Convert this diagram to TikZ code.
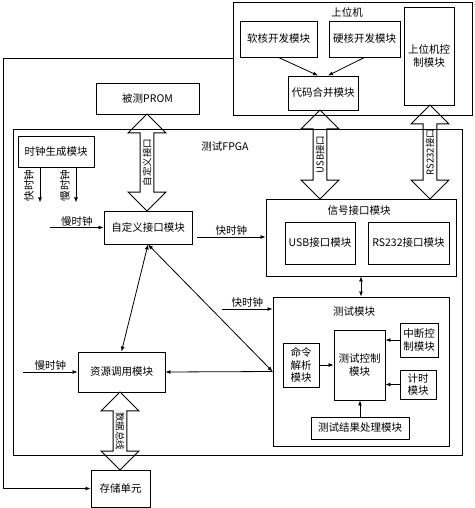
\documentclass[tikz,border=0pt]{standalone}
\usepackage{fontspec}
\setmainfont{Noto Sans CJK SC}
\usepackage{tikz}
\usetikzlibrary{calc, positioning, arrows.meta, shapes.arrows}

\tikzset{
  box/.style 2 args={draw, line width=0.9pt, align=center, inner sep=1pt,
    minimum width=#1, minimum height=#2, font=\fontsize{10.5}{12.5}\selectfont},
  txt/.style={inner sep=1pt, align=center, font=\fontsize{10.5}{12.5}\selectfont},
  fat/.style={draw, line width=0.9pt, double arrow, double arrow head extend=12pt,
    minimum width=34pt, inner sep=2pt, font=\fontsize{9.5}{11}\selectfont},
  arr/.style={line width=0.8pt, -{Latex[length=5pt,width=4pt]}},
  darr/.style={line width=0.8pt, {Latex[length=5pt,width=4pt]}-{Latex[length=5pt,width=4pt]}},
}

\begin{document}
\begin{tikzpicture}[x=1pt, y=-1pt]
    \useasboundingbox (0,0) rectangle (474,508);

    % Host computer
    \node[box={239pt}{113pt}] (host) at (352.5,58.5) {};
    \node[txt] (hosttitle) at (347,12) {上位机};
    \node[box={77pt}{36pt}] (soft) at (278.5,39) {软核开发模块};
    \node[box={71pt}{36pt}] (hard) at (364.5,39) {硬核开发模块};
    \node[box={50pt}{98pt}] (hostctl) at (429,56) {上位机控\\制模块};
    \node[box={70pt}{34pt}] (merge) at (323,93) {代码合并模块};

    \draw[arr] (soft.south) -- ($(merge.north)+(-5,0)$);
    \draw[arr] (hard.south) -- ($(merge.north)+(5,0)$);

    % PROM under test
    \node[box={103pt}{31pt}] (prom) at (147.5,98.5) {被测PROM};

    % FPGA under test
    \node[box={449pt}{326pt}] (fpga) at (237.5,292) {};
    \node[txt] (fpgatitle) at (225,147) {测试FPGA};

    \node[box={76pt}{31pt}] (clkgen) at (56,151.5) {时钟生成模块};
    \node[box={88pt}{33pt}] (custom) at (148,227.5) {自定义接口模块};
    \node[box={87pt}{40pt}] (res) at (121.5,372) {资源调用模块};

    % Signal interface module
    \node[box={190pt}{77pt}] (sig) at (361,237.5) {};
    \node[txt] (sigtitle) at (359,211) {信号接口模块};
    \node[box={70pt}{42pt}] (usb) at (320,243) {USB接口模块};
    \node[box={81pt}{42pt}] (rs) at (408.5,243) {RS232接口模块};

    % Test module
    \node[box={176pt}{149pt}] (test) at (361,371.5) {};
    \node[txt] (testtitle) at (354,312) {测试模块};
    \node[box={36pt}{44pt}] (cmd) at (301,365) {命令\\解析\\模块};
    \node[box={51pt}{70pt}] (ctrl) at (359.5,365) {测试控制\\模块};
    \node[box={38pt}{34pt}] (intr) at (419,340) {中断控\\制模块};
    \node[box={36pt}{29pt}] (timer) at (418,384.5) {计时\\模块};
    \node[box={98pt}{22pt}] (result) at (360,428) {测试结果处理模块};

    % Storage unit
    \node[box={59pt}{37pt}] (store) at (120.5,488.5) {存储单元};

    % Draw the wide bus arrows
    \node[fat, rotate=90, minimum height=97pt] (custombus) at (147,162.5) {自定义接口};
    \node[fat, rotate=90, minimum height=89pt] (usbbus) at (320,154.5) {USB接口};
    \node[fat, rotate=90, minimum height=94pt] (rsbus) at (430,152) {RS232接口};
    \node[fat, rotate=-90, minimum height=78pt] (databus) at (120,431) {数据总线};

    % Draw the clock lines
    \coordinate (fastgen) at ($(clkgen.south)+(-16,0)$);
    \coordinate (slowgen) at ($(clkgen.south)+(20,0)$);
    \draw[arr] (fastgen) -- ++(0,35);
    \draw[arr] (slowgen) -- ++(0,35);
    \node[txt, rotate=90] (fastlbl) at ($(fastgen)+(-11,18)$) {快时钟};
    \node[txt, rotate=90] (slowlbl) at ($(slowgen)+(-11,18)$) {慢时钟};

    \coordinate (slowin1) at (50,227.5);
    \draw[arr] (slowin1) -- (custom.west) node[midway, above, txt] {慢时钟};
    \coordinate (fastin1) at (197,237);
    \draw[arr] (fastin1) -- (fastin1 -| sig.west) node[midway, above, txt] {快时钟};
    \coordinate (fastin2) at (222,309);
    \draw[arr] (fastin2) -- (fastin2 -| test.west) node[midway, above, txt] {快时钟};
    \coordinate (slowin2) at (23,372);
    \draw[arr] (slowin2) -- (res.west) node[midway, above, txt] {慢时钟};

    % Draw the links between modules
    \draw[darr] (sig.south) -- (test.north);
    \draw[darr] (custom.south) -- (res.north);
    \draw[darr] (custom.south) -- (test.west);
    \draw[arr] (test.west) -- (res.east);

    \draw[arr] (cmd.east) -- (ctrl.west);
    \draw[arr] (intr.west) -- (intr.west -| ctrl.east);
    \draw[arr] (timer.west) -- (timer.west -| ctrl.east);
    \draw[arr] (result.north) -- (result.north |- ctrl.south);

    % Draw the outer line from the host to the storage unit
    \coordinate (edge) at (3,0);
    \draw[arr] (host.west) -- (host.west -| edge) |- (store.west);

\end{tikzpicture}
\end{document}
